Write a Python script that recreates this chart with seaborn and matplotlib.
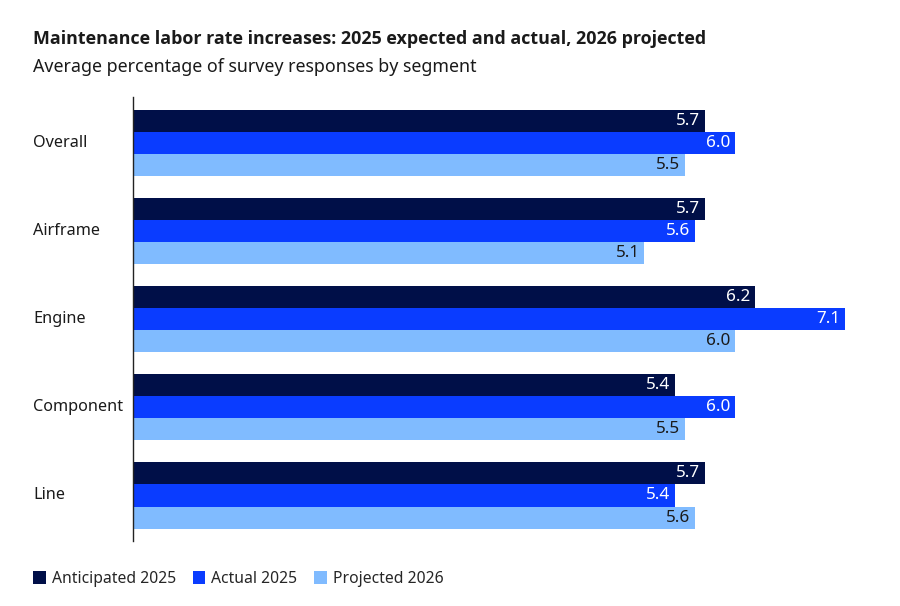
"""Maintenance labor rate increases by segment: grouped horizontal bars."""
import os

import matplotlib
matplotlib.use("Agg")
import matplotlib.pyplot as plt
from matplotlib import font_manager
import pandas as pd
import seaborn as sns

# ── data ────────────────────────────────────────────────────────────
segments = ["Overall", "Airframe", "Engine", "Component", "Line"]
series = ["Anticipated 2025", "Actual 2025", "Projected 2026"]
anticipated_2025 = [5.7, 5.7, 6.2, 5.4, 5.7]
actual_2025 = [6.0, 5.6, 7.1, 6.0, 5.4]
projected_2026 = [5.5, 5.1, 6.0, 5.5, 5.6]

colors = ["#000f48", "#0a3cff", "#80bbff"]
label_colors = ["white", "white", "#1a1a1a"]

df = pd.DataFrame({
    "segment": segments * 3,
    "series": [s for s in series for _ in segments],
    "value": anticipated_2025 + actual_2025 + projected_2026,
})

# pick a family that really ships a static bold face for the title
bold_family = "DejaVu Sans"
for fam in ["Noto Sans", "Open Sans", "Lato", "Roboto", "Liberation Sans"]:
    try:
        path = font_manager.findfont(
            font_manager.FontProperties(family=fam, weight="bold"), fallback_to_default=False
        )
    except ValueError:
        continue
    if "bold" in os.path.basename(path).lower():
        bold_family = fam
        break

# ── plotting ────────────────────────────────────────────────────────
sns.set_style("white")
plt.rcParams["font.family"] = ["Noto Sans", "DejaVu Sans"]

fig = plt.figure(figsize=(9, 6.06), dpi=100)
ax = fig.add_axes([133 / 900, 1 - 541 / 606, (845 - 133) / 900, (541 - 97) / 606])

sns.barplot(
    data=df, y="segment", x="value", hue="series", order=segments,
    hue_order=series, palette=colors, orient="h", width=0.75, gap=0,
    saturation=1, linewidth=0, ax=ax, legend=True,
)

ax.set_xlim(0, 7.1)
ax.set_ylim(4.517, -0.528)
for container, tcol in zip(ax.containers, label_colors):
    anns = ax.bar_label(container, fmt="%.1f", padding=-3, color=tcol, fontsize=12.3)
    for a in anns:
        a.set_ha("right")

ax.set_xlabel("")
ax.set_ylabel("")
ax.set_xticks([])
sns.despine(ax=ax, top=True, right=True, bottom=True, left=False)
ax.spines["left"].set_color("#222222")
ax.spines["left"].set_linewidth(1.0)
ax.tick_params(axis="y", length=0, pad=72, labelsize=11.7, labelcolor="#1a1a1a")
for lbl in ax.get_yticklabels():
    lbl.set_ha("left")
    lbl.set_va("center")

handles, labels = ax.get_legend_handles_labels()
ax.legend_.remove()
fig.legend(
    handles, labels, loc="center left", bbox_to_anchor=(33 / 900, 1 - 579 / 606),
    ncol=3, frameon=False, fontsize=11.3, handlelength=0.8, handleheight=0.95,
    handletextpad=0.4, columnspacing=1.05, borderaxespad=0, borderpad=0,
)

fig.text(33 / 900, 1 - 39 / 606,
         "Maintenance labor rate increases: 2025 expected and actual, 2026 projected",
         fontsize=12.9, fontweight="bold", family=[bold_family, "DejaVu Sans"],
         color="#1a1a1a", va="center")
fig.text(33 / 900, 1 - 67 / 606, "Average percentage of survey responses by segment",
         fontsize=12.85, color="#1a1a1a", va="center")

fig.savefig("out.png", dpi=100)
